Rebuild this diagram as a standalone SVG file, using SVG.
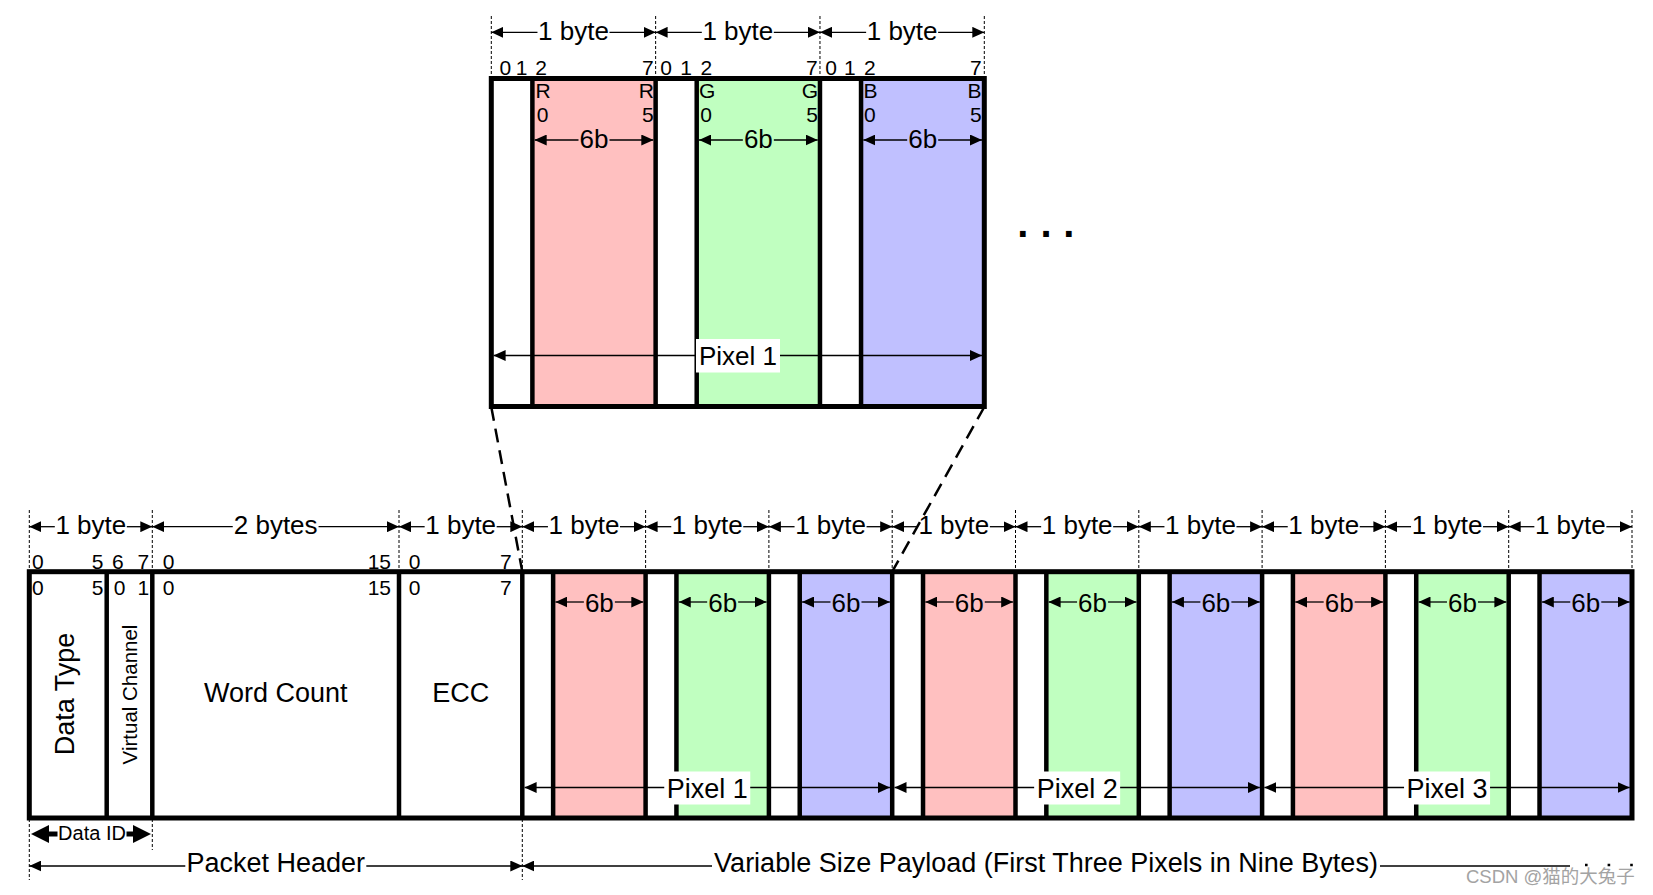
<svg xmlns="http://www.w3.org/2000/svg" width="1653" height="895" viewBox="0 0 1653 895">
<defs>
<style>
text{font-family:"Liberation Sans",Arial,sans-serif;fill:#000}
.f26{font-size:26px}
.f27{font-size:27px}
.f18{font-size:21px}
.f20{font-size:20px}
.mid{text-anchor:middle}
.end{text-anchor:end}
.r{fill:#FFC0C0}
.g{fill:#C0FFC0}
.b{fill:#C0C0FF}
.box{fill:none;stroke:#000;stroke-width:5}
.dv{stroke:#000;stroke-width:4.5}
.guide{stroke:#000;stroke-width:1;stroke-dasharray:3 2}
.arr{stroke:#000;stroke-width:1.3;fill:none;marker-end:url(#ah)}
.ln{stroke:#000;stroke-width:1.3;fill:none}
.zoom{stroke:#000;stroke-width:2.5;stroke-dasharray:14 8;fill:none}
.lbl{fill:#fff}
.wm{font-family:"Liberation Sans","Noto Sans CJK SC",sans-serif;font-size:18.5px;fill:#a3a3a3}
</style>
<marker id="ah" viewBox="0 0 12 11" refX="12" refY="5.5" markerWidth="12" markerHeight="11" markerUnits="userSpaceOnUse" orient="auto"><path d="M0,0 L12,5.5 L0,11 Z" fill="#000"/></marker>
</defs>
<rect width="1653" height="895" fill="#fff"/>

<!-- ===== Top: Pixel 1 detail ===== -->
<g id="pixel1-detail">
  <g id="top-byte-red">
    <rect class="r" x="532.38" y="78.5" width="123.25" height="328"/>
  </g>
  <g id="top-byte-green">
    <rect class="g" x="696.71" y="78.5" width="123.26" height="328"/>
  </g>
  <g id="top-byte-blue">
    <rect class="b" x="861.05" y="78.5" width="123.25" height="328"/>
  </g>
  <rect class="box" x="491.3" y="78.5" width="493" height="328"/>
  <g class="dv">
    <line x1="532.38" y1="78.5" x2="532.38" y2="406.5"/>
    <line x1="655.63" y1="78.5" x2="655.63" y2="406.5"/>
    <line x1="696.71" y1="78.5" x2="696.71" y2="406.5"/>
    <line x1="819.97" y1="78.5" x2="819.97" y2="406.5"/>
    <line x1="861.05" y1="78.5" x2="861.05" y2="406.5"/>
  </g>
  <rect class="lbl" x="696" y="339" width="84" height="33.5"/>
  <!-- bit numbers -->
  <g class="f18">
    <text x="499.4" y="74.5">0</text><text x="515.8" y="74.5">1</text><text x="535.2" y="74.5">2</text><text class="end" x="653.8" y="74.5">7</text>
    <text x="660.2" y="74.5">0</text><text x="680.2" y="74.5">1</text><text x="700.5" y="74.5">2</text><text class="end" x="817.8" y="74.5">7</text>
    <text x="825.2" y="74.5">0</text><text x="843.9" y="74.5">1</text><text x="863.9" y="74.5">2</text><text class="end" x="981.6" y="74.5">7</text>
    <text x="535.6" y="98">R</text><text class="end" x="653.8" y="98">R</text>
    <text x="699.1" y="98">G</text><text class="end" x="818" y="98">G</text>
    <text x="863.6" y="98">B</text><text class="end" x="981.6" y="98">B</text>
    <text x="536.8" y="122">0</text><text class="end" x="653.8" y="122">5</text>
    <text x="700.3" y="122">0</text><text class="end" x="818" y="122">5</text>
    <text x="864" y="122">0</text><text class="end" x="981.6" y="122">5</text>
  </g>
  <g class="f26 mid">
    <text x="573.47" y="39.5">1 byte</text>
    <text x="737.8" y="39.5">1 byte</text>
    <text x="902.13" y="39.5">1 byte</text>
    <text x="594" y="147.5">6b</text>
    <text x="758.34" y="147.5">6b</text>
    <text x="922.68" y="147.5">6b</text>
    <text x="738" y="364.5">Pixel 1</text>
  </g>
  <text x="1017.2 1040.5 1063.2" y="236.7" style="font-size:40px;font-weight:bold">...</text>
</g>

<!-- ===== Bottom: packet ===== -->
<g id="packet">
  <g id="payload-bytes">
    <rect class="r" x="553.13" y="571.7" width="92.47" height="246.3"/>
    <rect class="g" x="676.43" y="571.7" width="92.47" height="246.3"/>
    <rect class="b" x="799.73" y="571.7" width="92.47" height="246.3"/>
    <rect class="r" x="923.03" y="571.7" width="92.47" height="246.3"/>
    <rect class="g" x="1046.33" y="571.7" width="92.47" height="246.3"/>
    <rect class="b" x="1169.63" y="571.7" width="92.47" height="246.3"/>
    <rect class="r" x="1292.93" y="571.7" width="92.47" height="246.3"/>
    <rect class="g" x="1416.23" y="571.7" width="92.47" height="246.3"/>
    <rect class="b" x="1539.53" y="571.7" width="92.47" height="246.3"/>
  </g>
  <rect class="box" x="29.3" y="571.7" width="1602.7" height="246.3"/>
  <g class="dv">
    <line x1="106.7" y1="571.7" x2="106.7" y2="818"/>
    <line x1="152.3" y1="571.7" x2="152.3" y2="818"/>
    <line x1="399" y1="571.7" x2="399" y2="818"/>
    <line x1="522.3" y1="571.7" x2="522.3" y2="818"/>
    <line x1="553.13" y1="571.7" x2="553.13" y2="818"/>
    <line x1="645.6" y1="571.7" x2="645.6" y2="818"/>
    <line x1="676.43" y1="571.7" x2="676.43" y2="818"/>
    <line x1="768.9" y1="571.7" x2="768.9" y2="818"/>
    <line x1="799.73" y1="571.7" x2="799.73" y2="818"/>
    <line x1="892.2" y1="571.7" x2="892.2" y2="818"/>
    <line x1="923.03" y1="571.7" x2="923.03" y2="818"/>
    <line x1="1015.5" y1="571.7" x2="1015.5" y2="818"/>
    <line x1="1046.33" y1="571.7" x2="1046.33" y2="818"/>
    <line x1="1138.8" y1="571.7" x2="1138.8" y2="818"/>
    <line x1="1169.63" y1="571.7" x2="1169.63" y2="818"/>
    <line x1="1262.1" y1="571.7" x2="1262.1" y2="818"/>
    <line x1="1292.93" y1="571.7" x2="1292.93" y2="818"/>
    <line x1="1385.4" y1="571.7" x2="1385.4" y2="818"/>
    <line x1="1416.23" y1="571.7" x2="1416.23" y2="818"/>
    <line x1="1508.7" y1="571.7" x2="1508.7" y2="818"/>
    <line x1="1539.53" y1="571.7" x2="1539.53" y2="818"/>
  </g>
  <g id="pixel-label-boxes">
    <rect class="lbl" x="664.25" y="771.5" width="86" height="33"/>
    <rect class="lbl" x="1034.15" y="771.5" width="86" height="33"/>
    <rect class="lbl" x="1404.05" y="771.5" width="86" height="33"/>
  </g>
  <g id="field-data-type">
    <text class="f27 mid" transform="translate(74.3 694) rotate(-90)">Data Type</text>
  </g>
  <g id="field-virtual-channel">
    <text class="mid" style="font-size:20.5px" transform="translate(137 694.5) rotate(-90)">Virtual Channel</text>
  </g>
  <g id="field-word-count">
    <text class="f27 mid" x="275.7" y="701.7">Word Count</text>
  </g>
  <g id="field-ecc">
    <text class="f27 mid" x="460.7" y="701.7">ECC</text>
  </g>
  <g class="f18">
    <text x="32" y="569.3">0</text><text class="end" x="103.5" y="569.3">5</text><text x="112" y="569.3">6</text><text class="end" x="149.2" y="569.3">7</text>
    <text x="162.7" y="569.3">0</text><text class="end" x="391" y="569.3">15</text><text x="408.7" y="569.3">0</text><text class="end" x="511.6" y="569.3">7</text>
    <text x="32" y="594.5">0</text><text class="end" x="103.5" y="594.5">5</text><text x="113.7" y="594.5">0</text><text class="end" x="149.2" y="594.5">1</text>
    <text x="162.7" y="594.5">0</text><text class="end" x="391" y="594.5">15</text><text x="408.7" y="594.5">0</text><text class="end" x="511.6" y="594.5">7</text>
  </g>
  <g class="f26 mid">
    <text x="90.8" y="534">1 byte</text>
    <text x="275.65" y="534">2 bytes</text>
    <text x="460.65" y="534">1 byte</text>
    <text x="583.95" y="534">1 byte</text>
    <text x="707.25" y="534">1 byte</text>
    <text x="830.55" y="534">1 byte</text>
    <text x="953.85" y="534">1 byte</text>
    <text x="1077.15" y="534">1 byte</text>
    <text x="1200.45" y="534">1 byte</text>
    <text x="1323.75" y="534">1 byte</text>
    <text x="1447.05" y="534">1 byte</text>
    <text x="1570.35" y="534">1 byte</text>
    <text x="599.37" y="611.5">6b</text>
    <text x="722.67" y="611.5">6b</text>
    <text x="845.97" y="611.5">6b</text>
    <text x="969.27" y="611.5">6b</text>
    <text x="1092.57" y="611.5">6b</text>
    <text x="1215.87" y="611.5">6b</text>
    <text x="1339.17" y="611.5">6b</text>
    <text x="1462.47" y="611.5">6b</text>
    <text x="1585.77" y="611.5">6b</text>
  </g>
  <g class="f27 mid">
    <text x="707.25" y="797.5">Pixel 1</text>
    <text x="1077.15" y="797.5">Pixel 2</text>
    <text x="1447.05" y="797.5">Pixel 3</text>
    <text x="275.8" y="872">Packet Header</text>
    <text x="1046" y="872">Variable Size Payload (First Three Pixels in Nine Bytes)</text>
  </g>
  <text class="f20 mid" x="92" y="840">Data ID</text>
</g>

<!-- ===== Connectors / dimension arrows ===== -->
<g id="connectors">
  <g class="guide">
    <line x1="491.3" y1="16" x2="491.3" y2="78"/>
    <line x1="655.63" y1="16" x2="655.63" y2="78"/>
    <line x1="819.97" y1="16" x2="819.97" y2="78"/>
    <line x1="984.3" y1="16" x2="984.3" y2="78"/>
    <line x1="29.3" y1="510" x2="29.3" y2="571"/>
    <line x1="152.3" y1="510" x2="152.3" y2="571"/>
    <line x1="399" y1="510" x2="399" y2="571"/>
    <line x1="522.3" y1="510" x2="522.3" y2="571"/>
    <line x1="645.6" y1="510" x2="645.6" y2="571"/>
    <line x1="768.9" y1="510" x2="768.9" y2="571"/>
    <line x1="892.2" y1="510" x2="892.2" y2="571"/>
    <line x1="1015.5" y1="510" x2="1015.5" y2="571"/>
    <line x1="1138.8" y1="510" x2="1138.8" y2="571"/>
    <line x1="1262.1" y1="510" x2="1262.1" y2="571"/>
    <line x1="1385.4" y1="510" x2="1385.4" y2="571"/>
    <line x1="1508.7" y1="510" x2="1508.7" y2="571"/>
    <line x1="1632" y1="510" x2="1632" y2="571"/>
    <line x1="29.3" y1="819" x2="29.3" y2="880"/>
    <line x1="152.3" y1="819" x2="152.3" y2="850"/>
    <line x1="522.3" y1="819" x2="522.3" y2="880"/>
  </g>
  <g class="arr">
    <!-- top byte dims -->
    <line x1="537.47" y1="32.3" x2="491.3" y2="32.3"/><line x1="609.47" y1="32.3" x2="655.63" y2="32.3"/>
    <line x1="701.8" y1="32.3" x2="655.63" y2="32.3"/><line x1="773.8" y1="32.3" x2="819.97" y2="32.3"/>
    <line x1="866.13" y1="32.3" x2="819.97" y2="32.3"/><line x1="938.13" y1="32.3" x2="984.3" y2="32.3"/>
    <!-- top 6b -->
    <line x1="578.5" y1="140" x2="534.7" y2="140"/><line x1="609.5" y1="140" x2="653.3" y2="140"/>
    <line x1="742.84" y1="140" x2="699" y2="140"/><line x1="773.84" y1="140" x2="817.67" y2="140"/>
    <line x1="907.18" y1="140" x2="863.35" y2="140"/><line x1="938.18" y1="140" x2="982" y2="140"/>
    <!-- top pixel 1 -->
    <line x1="696" y1="355.5" x2="493.6" y2="355.5"/><line x1="780" y1="355.5" x2="982" y2="355.5"/>
    <!-- bottom byte dims -->
    <line x1="54.8" y1="526.7" x2="29.3" y2="526.7"/><line x1="126.8" y1="526.7" x2="152.3" y2="526.7"/>
    <line x1="232.75" y1="526.7" x2="152.3" y2="526.7"/><line x1="318.55" y1="526.7" x2="399" y2="526.7"/>
    <line x1="424.65" y1="526.7" x2="399" y2="526.7"/><line x1="496.65" y1="526.7" x2="522.3" y2="526.7"/>
    <line x1="547.95" y1="526.7" x2="522.3" y2="526.7"/><line x1="619.95" y1="526.7" x2="645.6" y2="526.7"/>
    <line x1="671.25" y1="526.7" x2="645.6" y2="526.7"/><line x1="743.25" y1="526.7" x2="768.9" y2="526.7"/>
    <line x1="794.55" y1="526.7" x2="768.9" y2="526.7"/><line x1="866.55" y1="526.7" x2="892.2" y2="526.7"/>
    <line x1="917.85" y1="526.7" x2="892.2" y2="526.7"/><line x1="989.85" y1="526.7" x2="1015.5" y2="526.7"/>
    <line x1="1041.15" y1="526.7" x2="1015.5" y2="526.7"/><line x1="1113.15" y1="526.7" x2="1138.8" y2="526.7"/>
    <line x1="1164.45" y1="526.7" x2="1138.8" y2="526.7"/><line x1="1236.45" y1="526.7" x2="1262.1" y2="526.7"/>
    <line x1="1287.75" y1="526.7" x2="1262.1" y2="526.7"/><line x1="1359.75" y1="526.7" x2="1385.4" y2="526.7"/>
    <line x1="1411.05" y1="526.7" x2="1385.4" y2="526.7"/><line x1="1483.05" y1="526.7" x2="1508.7" y2="526.7"/>
    <line x1="1534.35" y1="526.7" x2="1508.7" y2="526.7"/><line x1="1606.35" y1="526.7" x2="1632" y2="526.7"/>
    <!-- bottom 6b -->
    <line x1="583.87" y1="602" x2="555.43" y2="602"/><line x1="614.87" y1="602" x2="643.3" y2="602"/>
    <line x1="707.17" y1="602" x2="678.73" y2="602"/><line x1="738.17" y1="602" x2="766.6" y2="602"/>
    <line x1="830.47" y1="602" x2="802.03" y2="602"/><line x1="861.47" y1="602" x2="889.9" y2="602"/>
    <line x1="953.77" y1="602" x2="925.33" y2="602"/><line x1="984.77" y1="602" x2="1013.2" y2="602"/>
    <line x1="1077.07" y1="602" x2="1048.63" y2="602"/><line x1="1108.07" y1="602" x2="1136.5" y2="602"/>
    <line x1="1200.37" y1="602" x2="1171.93" y2="602"/><line x1="1231.37" y1="602" x2="1259.8" y2="602"/>
    <line x1="1323.67" y1="602" x2="1295.23" y2="602"/><line x1="1354.67" y1="602" x2="1383.1" y2="602"/>
    <line x1="1446.97" y1="602" x2="1418.53" y2="602"/><line x1="1477.97" y1="602" x2="1506.4" y2="602"/>
    <line x1="1570.27" y1="602" x2="1541.83" y2="602"/><line x1="1601.27" y1="602" x2="1629.7" y2="602"/>
    <!-- pixel spans -->
    <line x1="664.25" y1="787.5" x2="524.6" y2="787.5"/><line x1="750.25" y1="787.5" x2="889.9" y2="787.5"/>
    <line x1="1034.15" y1="787.5" x2="894.5" y2="787.5"/><line x1="1120.15" y1="787.5" x2="1259.8" y2="787.5"/>
    <line x1="1404.05" y1="787.5" x2="1264.4" y2="787.5"/><line x1="1490.05" y1="787.5" x2="1629.7" y2="787.5"/>
    <!-- packet header / payload -->
    <line x1="185.3" y1="866" x2="29.3" y2="866"/><line x1="366.3" y1="866" x2="522.3" y2="866"/>
    <line x1="712" y1="866" x2="522.3" y2="866"/>
  </g>
  <line class="ln" x1="1380" y1="866" x2="1570" y2="866"/>
  <line x1="1585" y1="865" x2="1634" y2="865" stroke="#000" stroke-width="2.6" stroke-dasharray="2.6 20"/>
  <!-- Data ID bold arrow -->
  <g id="data-id-arrow" fill="#000">
    <polygon points="31,834 49,825 49,843"/>
    <rect x="48" y="831.5" width="9.5" height="5"/>
    <polygon points="151,834 133,825 133,843"/>
    <rect x="126.5" y="831.5" width="7.5" height="5"/>
  </g>
  <!-- zoom lines -->
  <line class="zoom" x1="491.3" y1="407" x2="522.3" y2="571.7"/>
  <line class="zoom" x1="984.3" y1="407" x2="892.2" y2="571.7"/>
</g>

<text class="wm" x="1466" y="883.3">CSDN @猫的大兔子</text>
</svg>
